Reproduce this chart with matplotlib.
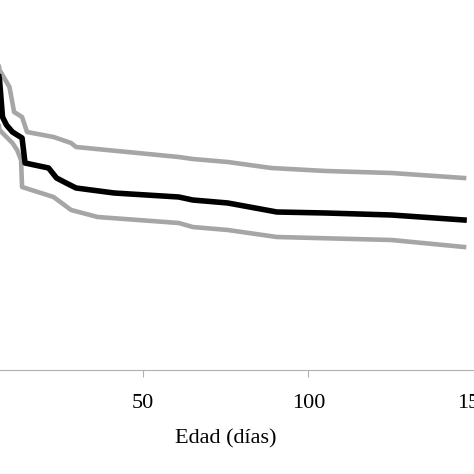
import matplotlib
matplotlib.use('Agg')
import matplotlib.pyplot as plt

# valores (eje y en unidades arbitrarias)
dias_media = [0, 6.8, 7.7, 8.9, 10.7, 13.6, 14.5, 21.6, 24, 26.9, 29.9, 41.4, 60.9, 65.1, 75.7, 90.5, 105.3, 125.1, 147]
media = [420, 290, 253, 245, 238, 232, 207, 202, 192, 187, 182, 177, 173, 170, 167, 158, 157, 155, 150]
dias_sup = [0, 6.8, 9.8, 11.2, 13.6, 15.1, 23.1, 28.4, 29.9, 60.9, 65.1, 75.7, 88.8, 105.3, 125.1, 147]
superior = [430, 300, 283, 258, 253, 238, 233, 227, 223, 213, 211, 208, 202, 199, 197, 192]
dias_inf = [0, 6.8, 10.7, 12.1, 13.3, 13.6, 23.1, 28.4, 36.4, 60.9, 65.1, 75.7, 90.5, 125.1, 147]
inferior = [400, 240, 227, 220, 210, 183, 173, 160, 153, 147, 143, 140, 133, 130, 123]

plt.rcParams['font.family'] = ['Liberation Serif', 'DejaVu Serif']
fig = plt.figure(figsize=(4.74, 4.74), dpi=100)
ax = fig.add_axes([-23/474, 104/474, 497/474, 370/474])
ax.plot(dias_sup, superior, color='#a6a6a6', lw=3.3)
ax.plot(dias_inf, inferior, color='#a6a6a6', lw=3.3)
ax.plot(dias_media, media, color='black', lw=4)
ax.set_xlim(0, 147)
ax.set_ylim(0, 370)
ax.set_xticks([0, 50, 100, 150])
ax.set_xticklabels(['', '50', '100', '150'])
ax.set_yticks([])
for s in ['top', 'right', 'left']:
    ax.spines[s].set_visible(False)
ax.spines['bottom'].set_color('#b0b0b0')
ax.tick_params(axis='x', length=5, color='#b0b0b0', labelsize=16, pad=12)
ax.set_xlabel('Edad (días)', fontsize=16, labelpad=12)
fig.savefig('out.png', dpi=100)
